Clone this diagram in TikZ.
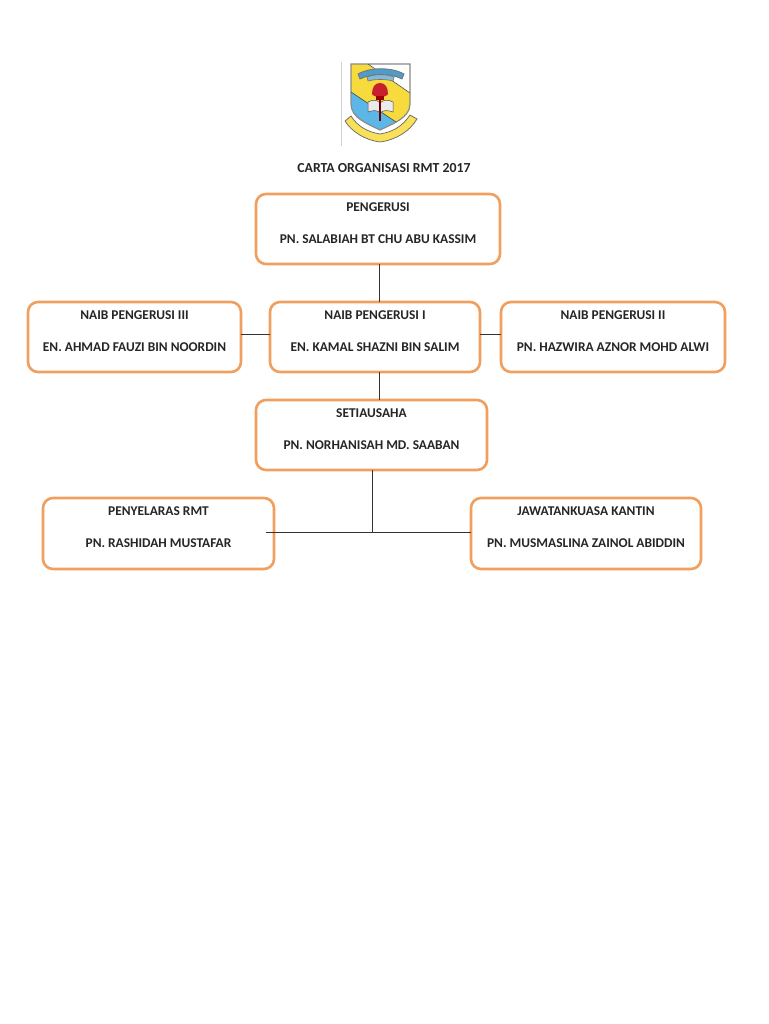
\documentclass[tikz,border=0pt]{standalone}
\usepackage{fontspec}
\setmainfont{Carlito}
\tikzset{
  x=1pt,y=-1pt,
  orgbox/.style={draw=boxorange,line width=2.6pt,rounded corners=10pt,fill=white,inner sep=0pt,outer sep=0pt},
  lbl/.style={font=\fontsize{13.4}{15}\selectfont\bfseries,text=black!85,inner sep=0pt,anchor=center},
  link/.style={draw=black!80,line width=1pt},
}
\definecolor{boxorange}{HTML}{F09F5E}
\definecolor{shyellow}{HTML}{F7DA3C}
\definecolor{shblue}{HTML}{5DB7E6}
\definecolor{shgray}{HTML}{8A8A8A}
\definecolor{shbanner}{HTML}{4F9CC8}
\definecolor{shred}{HTML}{C8202C}
\newcommand{\orgnode}[7]{%
  \node[orgbox,minimum width=#4pt-#2pt,minimum height=#5pt-#3pt,anchor=north west] (#1) at (#2,#3) {};
  \node[lbl] (#1t) at ({(#2+#4)/2},#3+13) {#6};
  \node[lbl] (#1p) at ({(#2+#4)/2},#3+45) {#7};
}
\begin{document}
\begin{tikzpicture}
\useasboundingbox (0,0) rectangle (768,1024);
\fill[white] (0,0) rectangle (768,1024);
% logo
\draw[black!18,line width=1pt] (341,62) -- (341,146);
\fill[shyellow] (351,64) -- (410,64) -- (410,104) .. controls (410,118) and (392,124) .. (380,130) .. controls (368,124) and (351,118) .. (351,104) -- cycle;
\fill[white] (368,64) -- (410,64) -- (410,93) -- cycle;
\fill[shblue] (351,92) -- (396,122) .. controls (390,125) and (385,127) .. (380,130) .. controls (368,124) and (351,118) .. (351,104) -- cycle;
\draw[shgray,line width=1.2pt] (351,104) -- (351,64) -- (410,64) -- (410,104) .. controls (410,118) and (392,124) .. (380,130) .. controls (368,124) and (351,118) .. (351,104);
\draw[black!70,line width=.6pt] (351,92) -- (396,122) (368,64) -- (410,93);
\draw[black!55,line width=.8pt,fill=shbanner] (358,74) .. controls (370,67) and (392,67) .. (404,74) -- (402,79) .. controls (390,73) and (372,73) .. (360,79) -- cycle;
\draw[black!55,line width=.6pt,fill=shbanner!70!white] (367,77) .. controls (375,74) and (387,74) .. (394,77) -- (393,81) .. controls (386,79) and (375,79) .. (368,81) -- cycle;
\fill[white!92!black,draw=black!70,line width=.5pt] (368,102) .. controls (373,99) and (378,100) .. (380,103) .. controls (383,100) and (388,99) .. (393,102) -- (393,112) .. controls (388,110) and (383,110) .. (380,113) .. controls (378,110) and (373,110) .. (368,112) -- cycle;
\draw[red!45!black,line width=2pt] (380,96) -- (380,121);
\fill[shred] (372,94) .. controls (372,87) and (375,83) .. (380,83) .. controls (385,83) and (388,87) .. (388,94) .. controls (386,98) and (374,98) .. (372,94) -- cycle;
\fill[red!60!black] (376,96) rectangle (384,100);
\draw[black!60,line width=.7pt,fill=shyellow!85!white] (345,121) -- (351,116) .. controls (358,127) and (368,132) .. (380,134) .. controls (392,132) and (402,127) .. (410,115) -- (417,119) .. controls (410,131) and (396,140) .. (380,142) .. controls (365,140) and (352,132) .. (345,121) -- cycle;
% title
\node[lbl,font=\fontsize{13.8}{15}\selectfont\bfseries] (title) at (384,168) {CARTA ORGANISASI RMT 2017};
% boxes
\orgnode{peng}{256}{194}{500}{264}{PENGERUSI}{PN. SALABIAH BT CHU ABU KASSIM}
\orgnode{naiba}{270}{302}{480}{372}{NAIB PENGERUSI I}{EN. KAMAL SHAZNI BIN SALIM}
\orgnode{naibc}{28}{302}{241}{372}{NAIB PENGERUSI III}{EN. AHMAD FAUZI BIN NOORDIN}
\orgnode{naibb}{501}{302}{725}{372}{NAIB PENGERUSI II}{PN. HAZWIRA AZNOR MOHD ALWI}
\orgnode{setia}{256}{400}{487}{470}{SETIAUSAHA}{PN. NORHANISAH MD. SAABAN}
\orgnode{peny}{43}{498}{274}{569}{PENYELARAS RMT}{PN. RASHIDAH MUSTAFAR}
\orgnode{jawa}{471}{498}{701}{569}{JAWATANKUASA KANTIN}{PN. MUSMASLINA ZAINOL ABIDDIN}
% connectors
\coordinate (a1) at (379,264);
\coordinate (a2) at (379,302);
\coordinate (a3) at (379,372);
\coordinate (a4) at (379,400);
\coordinate (b1) at (372,470);
\coordinate (b2) at (372,532);
\coordinate (c1) at (266,532);
\coordinate (c2) at (471,532);
\draw[link] (a1) -- (a2);
\draw[link] (a3) -- (a4);
\draw[link] (naibc.east |- 0,334) -- (naiba.west |- 0,334);
\draw[link] (naiba.east |- 0,334) -- (naibb.west |- 0,334);
\draw[link] (b1) -- (b2);
\draw[link] (c1) -- (c2);
\end{tikzpicture}
\end{document}
